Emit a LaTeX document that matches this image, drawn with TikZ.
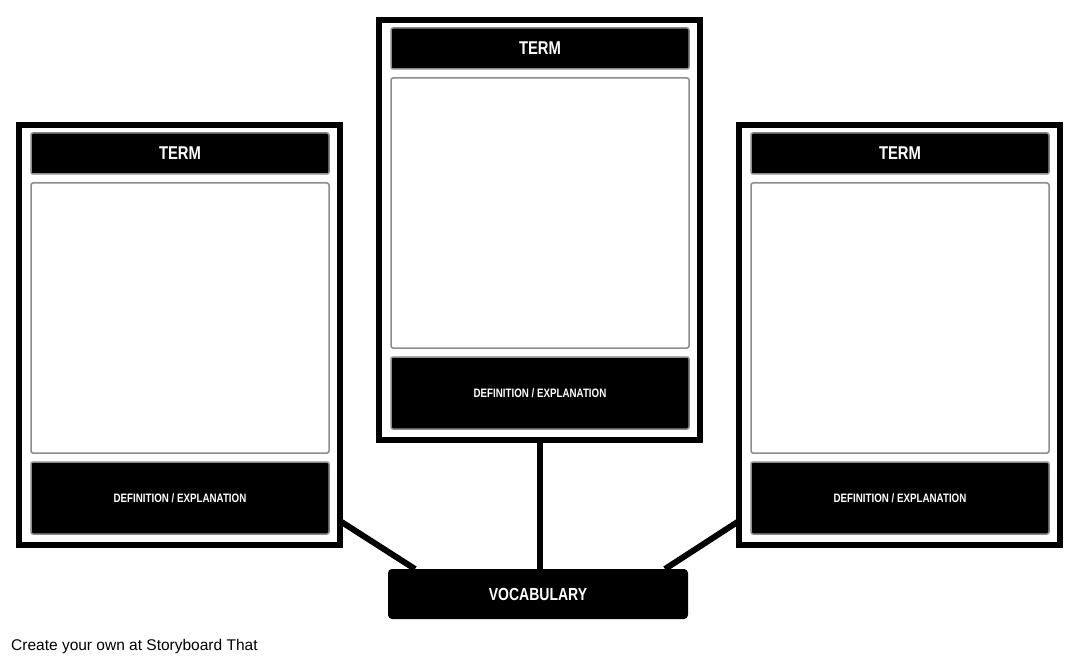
\documentclass[tikz,border=0pt]{standalone}
\usepackage{fontspec}
\setmainfont{Liberation Sans}
\newfontfamily\condfont[FakeStretch=0.8]{Liberation Sans}
\usetikzlibrary{backgrounds}
\begin{document}
\begin{tikzpicture}[x=1pt,y=-1pt,
  frame/.style={draw=black,line width=6pt,fill=white,rectangle,inner sep=0pt,outer sep=0pt,minimum width=321pt,minimum height=420pt},
  termbox/.style={draw=black!45,line width=1.5pt,fill=black,rounded corners=2pt,inner sep=0pt,minimum width=298pt,minimum height=41pt,text=white,font=\condfont\bfseries\fontsize{18.5}{20}\selectfont},
  imgbox/.style={draw=black!45,line width=1.5pt,fill=white,rounded corners=2pt,inner sep=0pt,minimum width=298pt,minimum height=270pt},
  defbox/.style={draw=black!45,line width=1.5pt,fill=black,rounded corners=2pt,inner sep=0pt,minimum width=298pt,minimum height=72pt,text=white,font=\condfont\bfseries\fontsize{12.2}{14}\selectfont},
  vocab/.style={fill=black,rounded corners=4pt,inner sep=0pt,outer sep=0pt,minimum width=300pt,minimum height=50pt,text=white,font=\condfont\bfseries\fontsize{17.5}{19}\selectfont},
  link/.style={draw=black,line width=6pt}]
\useasboundingbox (0,0) rectangle (1081,663);

\node[vocab] (V) at (538,594) {VOCABULARY};

\foreach \n/\dx/\dy in {L/0/0, M/360/-105, R/720/0}{
  \node[frame] (\n frame) at (179.5+\dx,335+\dy) {};
  \node[termbox] (\n term) at (180+\dx,153.5+\dy) {TERM};
  \node[imgbox] (\n img) at (180+\dx,318+\dy) {};
  \node[defbox] (\n def) at (180+\dx,498+\dy) {DEFINITION / EXPLANATION};
}

\begin{scope}[on background layer]
  \fill[white] (0,0) rectangle (1081,663);
  \draw[link] ([yshift=24pt]Lframe.south east) -- ([xshift=-123pt]V.north);
  \draw[link] ([yshift=24pt]Rframe.south west) -- ([xshift=127pt]V.north);
  \draw[link] ([xshift=0.5pt]Mframe.south) -- ([xshift=2pt]V.north);
\end{scope}

\node[anchor=base west,inner sep=0pt,font=\fontsize{15.5}{17}\selectfont] (credit) at (11,650) {Create your own at Storyboard That};
\end{tikzpicture}
\end{document}
